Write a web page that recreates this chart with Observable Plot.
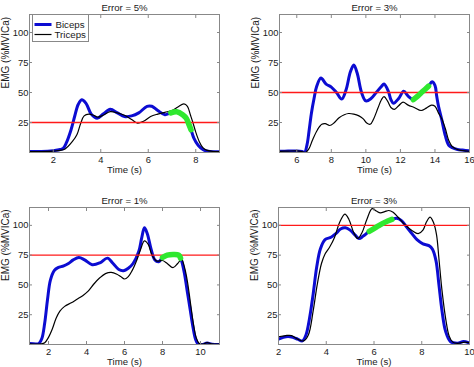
<!DOCTYPE html>
<html>
<head>
<meta charset="utf-8">
<script src="https://cdn.jsdelivr.net/npm/d3@7"></script>
<script src="https://cdn.jsdelivr.net/npm/@observablehq/plot@0.6"></script>
<style>
  html, body { margin: 0; padding: 0; background: #fff; }
  #wrap { position: relative; width: 474px; height: 367px; overflow: hidden; background: #fff; }
  #wrap svg { position: absolute; }
  #legend { position: absolute; left: 32px; top: 14px; width: 57px; height: 28px; box-sizing: border-box;
            border: 1px solid #888; background: #fff; }
</style>
</head>
<body>
<div id="wrap"></div>
<script>
// ---------- data ----------
const titles = ["Error = 5%", "Error = 3%", "Error = 1%", "Error = 3%"];
const targets = [25, 50, 75, 100];
const xDomains = [[1, 9], [5, 16], [1, 11], [2, 10]];
const xTicks = [[2, 4, 6, 8], [6, 8, 10, 12, 14, 16], [2, 4, 6, 8, 10], [2, 4, 6, 8, 10]];
const yTicks = [25, 50, 75, 100];
const yDomain = [0, 115];
const legendLabels = ["Biceps", "Triceps"];
const xLabel = "Time (s)";
const yLabel = "EMG (%MVICa)";

const biceps1 = [[1,0.8],[1.5,0.8],[2,1.5],[2.3,2.5],[2.42,3.5],[2.55,8],[2.75,19],[2.9,30],[3.05,40],[3.2,44],[3.38,41],[3.6,32],[3.85,28.5],[4.1,32],[4.4,36],[4.7,33],[5.0,30],[5.3,30.5],[5.6,33],[5.95,38.5],[6.15,38.5],[6.4,35],[6.7,31.5],[6.95,33],[7.2,34],[7.45,31.5],[7.6,28.5],[7.72,23],[7.8,19],[7.92,12],[8.1,6],[8.3,2.5],[8.5,1],[8.8,0.6],[9,0.6]];
const triceps1 = [[1,0.8],[1.5,0.8],[2,1.2],[2.3,1.8],[2.5,3],[2.8,9],[3.0,15],[3.15,24],[3.3,30.5],[3.5,32],[3.7,31],[3.88,29.5],[4.1,31],[4.4,34],[4.7,33],[5.0,31],[5.3,27.5],[5.55,24.5],[5.8,26],[6.1,30],[6.4,32],[6.7,33.5],[7.0,35],[7.25,38],[7.5,40.5],[7.65,38.5],[7.78,31],[7.88,25],[8.0,17],[8.15,9],[8.3,4],[8.45,2],[8.7,1],[9,0.8]];
const green1 = [[6.95,33],[7.2,34],[7.45,31.5],[7.6,28.5],[7.72,23],[7.8,19]];

const biceps2 = [[5,1],[5.5,1.2],[6,1.3],[6.3,0.8],[6.45,0],[6.6,7],[6.72,19],[6.85,33],[7.0,45],[7.15,55],[7.4,62],[7.7,57],[8.0,54.5],[8.3,50],[8.6,44.5],[8.85,52],[9.1,67],[9.3,73],[9.5,66],[9.75,50],[10.0,43],[10.3,45],[10.6,50],[10.9,55],[11.05,57],[11.3,51],[11.45,44],[11.6,41],[11.9,45],[12.19,51],[12.45,47],[12.75,44],[13.0,47],[13.3,51],[13.63,55.3],[13.83,59],[14.0,56],[14.1,47],[14.2,39],[14.4,27],[14.6,14],[14.8,6],[15.0,4],[15.3,2.5],[15.6,2],[16,1.3]];
const triceps2 = [[5,1],[5.5,1.2],[6,1.3],[6.3,0.8],[6.5,0],[6.7,3],[6.9,10],[7.2,19],[7.45,23.5],[7.65,24],[7.9,22.5],[8.15,24.5],[8.45,29],[8.75,31.5],[9.0,32.5],[9.3,32],[9.6,30.5],[9.85,28],[10.05,24.5],[10.25,23.5],[10.45,28],[10.7,37],[10.9,44],[11.05,46.5],[11.25,43],[11.45,37.5],[11.65,36],[11.9,39],[12.15,42],[12.45,39.5],[12.8,37.5],[13.2,35],[13.5,37],[13.8,39.5],[14.0,38.5],[14.2,33],[14.4,28],[14.6,20],[14.8,10],[15.0,5],[15.3,2.5],[15.6,1.5],[16,1]];
const green2 = [[12.75,44],[13.0,47],[13.3,51],[13.63,55.3]];

const biceps3 = [[1,0.8],[1.4,0.5],[1.5,1],[1.65,5],[1.8,18],[1.95,38],[2.1,54],[2.3,62],[2.5,64.5],[2.8,66],[3.05,68],[3.3,71],[3.6,73],[3.9,71],[4.3,67],[4.7,68.5],[5.1,72.5],[5.4,68],[5.7,63],[5.95,62],[6.2,64],[6.45,68],[6.75,78],[6.9,89],[7.05,98],[7.2,93],[7.4,80],[7.6,71],[7.8,69.5],[8.0,73],[8.25,75],[8.6,75.5],[8.85,75],[8.98,71.5],[9.15,60],[9.3,45],[9.45,30],[9.6,15],[9.75,4],[9.9,0],[10.1,0],[10.35,1.2],[10.6,0.3],[11,0]];
const triceps3 = [[1,0.5],[1.6,0.5],[1.8,1.5],[2.0,6],[2.2,13],[2.4,22],[2.6,28],[2.85,32],[3.2,35],[3.5,38],[3.8,41],[4.1,45],[4.4,51],[4.7,56],[5.0,59.5],[5.3,60.5],[5.6,59],[5.8,57],[6.0,55],[6.2,57],[6.4,62],[6.65,71],[6.85,80],[7.05,87],[7.25,84],[7.45,75],[7.7,70],[8.0,70.5],[8.25,68],[8.55,64.5],[8.8,68],[9.0,71.5],[9.17,64],[9.32,52],[9.47,35],[9.62,18],[9.77,6],[9.92,1],[10.1,0.3],[10.35,1.5],[10.6,0.5],[11,0.3]];
const green3 = [[8.0,73],[8.25,75],[8.6,75.5],[8.85,75],[8.95,72.5]];

const biceps4 = [[2,4.5],[2.2,6],[2.4,6.7],[2.6,6],[2.8,4.5],[3.0,3],[3.15,8],[3.3,22],[3.45,42],[3.6,65],[3.75,80],[3.95,88],[4.2,90],[4.4,93],[4.6,97],[4.8,98],[5.0,96],[5.2,92],[5.37,89],[5.55,91],[5.8,95],[6.1,98.5],[6.45,102.5],[6.75,105],[6.95,106],[7.15,104],[7.35,99],[7.55,94],[7.8,88],[8.05,84.5],[8.3,83],[8.45,80],[8.6,70],[8.72,50],[8.85,28],[9.0,11],[9.2,2.5],[9.5,1],[9.75,2.5],[10,1.2]];
const triceps4 = [[2,6.5],[2.3,7.5],[2.55,7.5],[2.8,4.5],[3.05,3],[3.25,8],[3.45,28],[3.62,50],[3.8,68],[3.95,76],[4.15,82],[4.35,90],[4.55,102],[4.78,109.5],[4.95,105],[5.15,94],[5.32,89],[5.5,94],[5.7,105],[5.92,114],[6.1,112],[6.27,110.5],[6.45,111.5],[6.62,112.5],[6.8,111],[7.0,107],[7.3,100.5],[7.6,95.5],[7.85,93],[8.05,96],[8.2,103],[8.35,107],[8.5,102],[8.62,92],[8.72,72],[8.85,45],[9.0,22],[9.15,7],[9.3,2],[9.5,1],[9.8,2],[10,1.5]];
const green4 = [[5.8,95],[6.1,98.5],[6.45,102.5],[6.75,105]];

const bicepsAll = [biceps1, biceps2, biceps3, biceps4];
const tricepsAll = [triceps1, triceps2, triceps3, triceps4];
const greenAll = [green1, green2, green3, green4];

// ---------- style / layout ----------
const FONT = "'Liberation Sans', Arial, Helvetica, sans-serif";
const BLUE = "#0c0cd2", BLACK = "#000", RED = "#ff1a1a", GREEN = "#2fe82f", AXIS = "#888";
const layouts = [
  {left: 0,   top: 0,   width: 237, height: 184, ml: 29, mr: 18, mt: 14, mb: 32},
  {left: 237, top: 0,   width: 237, height: 184, ml: 42, mr: 5,  mt: 14, mb: 32},
  {left: 0,   top: 184, width: 237, height: 183, ml: 29, mr: 18, mt: 23, mb: 23},
  {left: 237, top: 184, width: 237, height: 183, ml: 41, mr: 5,  mt: 23, mb: 23}
];

const wrap = document.getElementById("wrap");
const X = d => d[0], Y = d => d[1];

for (let i = 0; i < 4; i++) {
  const L = layouts[i];
  const svg = Plot.plot({
    width: L.width, height: L.height,
    marginLeft: L.ml, marginRight: L.mr, marginTop: L.mt, marginBottom: L.mb,
    x: {domain: xDomains[i]},
    y: {domain: yDomain},
    style: {fontFamily: FONT, fontSize: "9.4px", color: "#1a1a1a", background: "transparent", overflow: "visible"},
    marks: [
      Plot.line(bicepsAll[i], {x: X, y: Y, stroke: BLUE, strokeWidth: 3, curve: "catmull-rom", clip: true}),
      Plot.line(tricepsAll[i], {x: X, y: Y, stroke: BLACK, strokeWidth: 1.2, curve: "catmull-rom", clip: true}),
      Plot.ruleY([targets[i]], {stroke: RED, strokeWidth: 1.4}),
      Plot.line(greenAll[i], {x: X, y: Y, stroke: GREEN, strokeWidth: 5.5, curve: "catmull-rom", clip: true}),
      Plot.frame({stroke: AXIS}),
      Plot.axisX(xTicks[i], {anchor: "bottom", tickSize: -3, tickPadding: 7, stroke: AXIS, label: null}),
      Plot.axisX(xTicks[i], {anchor: "top", tickSize: -3, tickFormat: () => "", stroke: AXIS, label: null}),
      Plot.axisY(yTicks, {anchor: "left", tickSize: -3, tickPadding: 4, stroke: AXIS, label: null}),
      Plot.axisY(yTicks, {anchor: "right", tickSize: -3, tickFormat: () => "", stroke: AXIS, label: null}),
      Plot.text([titles[i]], {text: d => d, frameAnchor: "top", dy: -10.5, fontSize: 9.6}),
      Plot.text([xLabel], {text: d => d, frameAnchor: "bottom", dy: 20.5, fontSize: 9.6}),
      Plot.text([yLabel], {text: d => d, frameAnchor: "left", dx: -24, dy: 5, rotate: -90, fontSize: 10})
    ]
  });
  svg.style.left = L.left + "px";
  svg.style.top = L.top + "px";
  wrap.appendChild(svg);
}

// legend (top-left panel)
const leg = document.createElement("div");
leg.id = "legend";
const ns = "http://www.w3.org/2000/svg";
const ls = document.createElementNS(ns, "svg");
ls.setAttribute("width", 55); ls.setAttribute("height", 26);
ls.style.position = "absolute"; ls.style.left = "0px"; ls.style.top = "0px";
const legColors = [BLUE, BLACK], legWidths = [3, 1.2];
legendLabels.forEach((lab, k) => {
  const y = 9.5 + k * 10;
  const ln = document.createElementNS(ns, "line");
  ln.setAttribute("x1", 1.5); ln.setAttribute("x2", 18.5); ln.setAttribute("y1", y); ln.setAttribute("y2", y);
  ln.setAttribute("stroke", legColors[k]); ln.setAttribute("stroke-width", legWidths[k]);
  ls.appendChild(ln);
  const tx = document.createElementNS(ns, "text");
  tx.setAttribute("x", k === 0 ? 22.5 : 21.5); tx.setAttribute("y", y + 3.5);
  tx.setAttribute("font-family", FONT); tx.setAttribute("font-size", "9.7px"); tx.setAttribute("fill", "#1a1a1a");
  tx.textContent = lab;
  ls.appendChild(tx);
});
leg.appendChild(ls);
wrap.appendChild(leg);
</script>
</body>
</html>
